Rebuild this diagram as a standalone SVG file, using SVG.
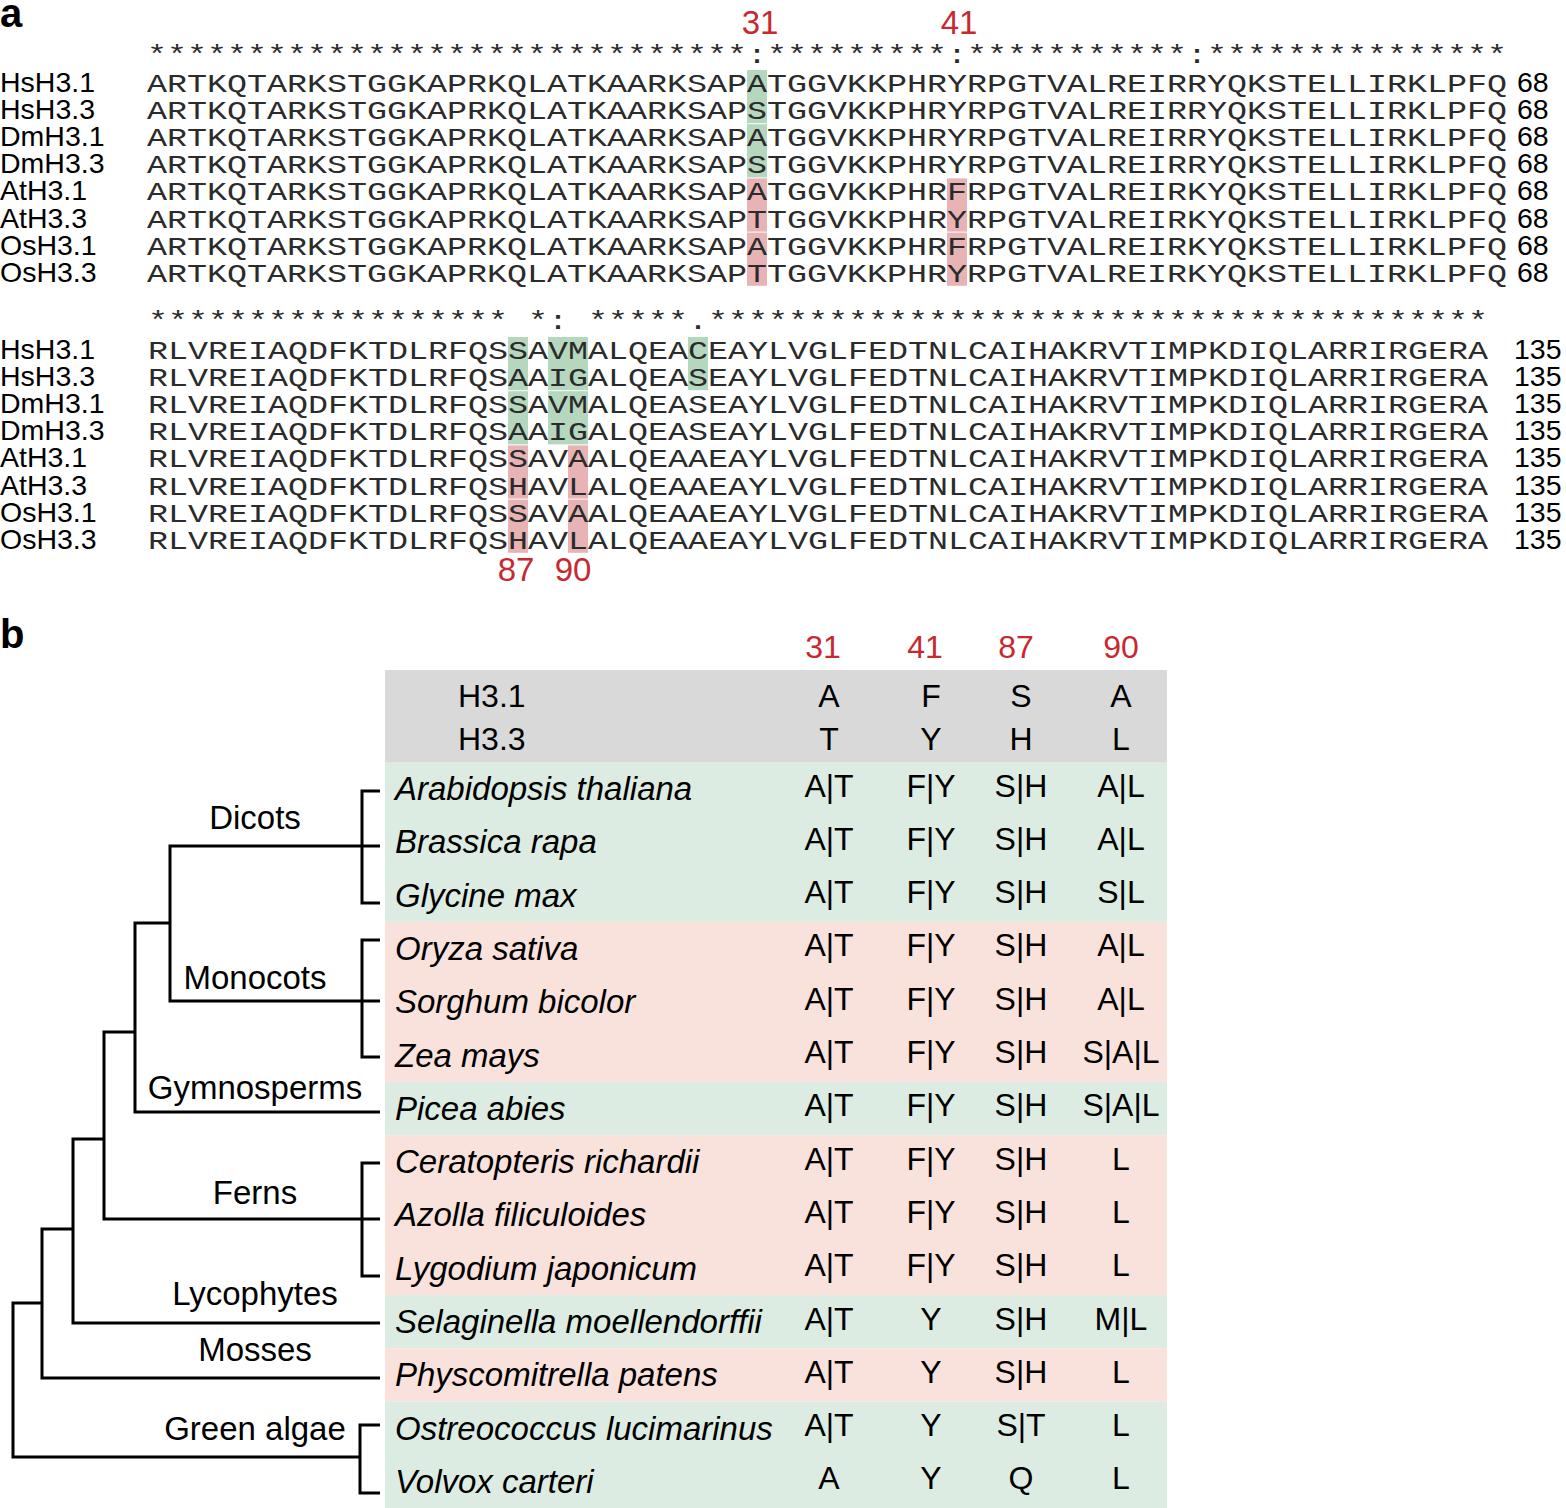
<svg xmlns="http://www.w3.org/2000/svg" width="1566" height="1508" viewBox="0 0 1566 1508">
<style>
text{font-family:"Liberation Sans",Arial,sans-serif;fill:#000}
.panel{font-size:40px;font-weight:bold}
.lab{font-size:28.5px}
.num{font-size:28.5px}
.seq{font-family:"Liberation Mono","Courier New",monospace;font-size:26px;fill:#2b2b2b}
.red{font-size:33px;fill:#c62a30;text-anchor:middle}
.redb{font-size:32px;fill:#c62a30;text-anchor:middle}
.sp{font-size:33px;font-style:italic}
.val{font-size:32px;text-anchor:middle}
.hdr{font-size:32px}
.clade{font-size:33px;text-anchor:middle}
.hg{fill:#b5d7bd}
.hp{fill:#e7b3b5}
.bg{fill:#ddece2}
.bp{fill:#f9e2db}
.tree{fill:none;stroke:#000;stroke-width:3;stroke-linejoin:miter}
</style>

<text class="panel" x="0" y="27">a</text>
<text class="panel" x="0" y="648">b</text>

<g id="highlights">
<rect class="hg" x="747" y="70" width="20" height="53.2"/>
<rect class="hg" x="747" y="124.2" width="20" height="53.2"/>
<rect class="hp" x="747" y="178.4" width="20" height="53.2"/>
<rect class="hp" x="747" y="232.6" width="20" height="53.2"/>
<rect class="hp" x="947" y="178.4" width="20" height="53.2"/>
<rect class="hp" x="947" y="232.6" width="20" height="53.2"/>
<rect class="hg" x="508" y="337" width="20" height="53.2"/>
<rect class="hg" x="508" y="391.2" width="20" height="53.2"/>
<rect class="hg" x="548" y="337" width="40" height="53.2"/>
<rect class="hg" x="548" y="391.2" width="40" height="53.2"/>
<rect class="hg" x="688" y="337" width="20" height="53.2"/>
<rect class="hp" x="508" y="445.4" width="20" height="53.2"/>
<rect class="hp" x="508" y="499.6" width="20" height="53.2"/>
<rect class="hp" x="568" y="445.4" width="20" height="53.2"/>
<rect class="hp" x="568" y="499.6" width="20" height="53.2"/>
</g>

<g id="alignment-block-1">
<text class="red" x="760" y="34">31</text>
<text class="red" x="959" y="34">41</text>
<text class="seq" x="147" y="63" textLength="1360" lengthAdjust="spacingAndGlyphs" xml:space="preserve">******************************:*********:***********:***************</text>
<text class="lab" x="0" y="92">HsH3.1</text>
<text class="lab" x="0" y="119.1">HsH3.3</text>
<text class="lab" x="0" y="146.2">DmH3.1</text>
<text class="lab" x="0" y="173.3">DmH3.3</text>
<text class="lab" x="0" y="200.4">AtH3.1</text>
<text class="lab" x="0" y="227.5">AtH3.3</text>
<text class="lab" x="0" y="254.6">OsH3.1</text>
<text class="lab" x="0" y="281.7">OsH3.3</text>
<text class="seq" x="147" y="92" textLength="1360" lengthAdjust="spacingAndGlyphs">ARTKQTARKSTGGKAPRKQLATKAARKSAPATGGVKKPHRYRPGTVALREIRRYQKSTELLIRKLPFQ</text>
<text class="seq" x="147" y="119.1" textLength="1360" lengthAdjust="spacingAndGlyphs">ARTKQTARKSTGGKAPRKQLATKAARKSAPSTGGVKKPHRYRPGTVALREIRRYQKSTELLIRKLPFQ</text>
<text class="seq" x="147" y="146.2" textLength="1360" lengthAdjust="spacingAndGlyphs">ARTKQTARKSTGGKAPRKQLATKAARKSAPATGGVKKPHRYRPGTVALREIRRYQKSTELLIRKLPFQ</text>
<text class="seq" x="147" y="173.3" textLength="1360" lengthAdjust="spacingAndGlyphs">ARTKQTARKSTGGKAPRKQLATKAARKSAPSTGGVKKPHRYRPGTVALREIRRYQKSTELLIRKLPFQ</text>
<text class="seq" x="147" y="200.4" textLength="1360" lengthAdjust="spacingAndGlyphs">ARTKQTARKSTGGKAPRKQLATKAARKSAPATGGVKKPHRFRPGTVALREIRKYQKSTELLIRKLPFQ</text>
<text class="seq" x="147" y="227.5" textLength="1360" lengthAdjust="spacingAndGlyphs">ARTKQTARKSTGGKAPRKQLATKAARKSAPTTGGVKKPHRYRPGTVALREIRKYQKSTELLIRKLPFQ</text>
<text class="seq" x="147" y="254.6" textLength="1360" lengthAdjust="spacingAndGlyphs">ARTKQTARKSTGGKAPRKQLATKAARKSAPATGGVKKPHRFRPGTVALREIRKYQKSTELLIRKLPFQ</text>
<text class="seq" x="147" y="281.7" textLength="1360" lengthAdjust="spacingAndGlyphs">ARTKQTARKSTGGKAPRKQLATKAARKSAPTTGGVKKPHRYRPGTVALREIRKYQKSTELLIRKLPFQ</text>
<text class="num" x="1517" y="92">68</text>
<text class="num" x="1517" y="119.1">68</text>
<text class="num" x="1517" y="146.2">68</text>
<text class="num" x="1517" y="173.3">68</text>
<text class="num" x="1517" y="200.4">68</text>
<text class="num" x="1517" y="227.5">68</text>
<text class="num" x="1517" y="254.6">68</text>
<text class="num" x="1517" y="281.7">68</text>
</g>

<g id="alignment-block-2">
<text class="seq" x="148" y="329" textLength="1340" lengthAdjust="spacingAndGlyphs" xml:space="preserve">****************** *: *****.***************************************</text>
<text class="lab" x="0" y="359">HsH3.1</text>
<text class="lab" x="0" y="386.1">HsH3.3</text>
<text class="lab" x="0" y="413.2">DmH3.1</text>
<text class="lab" x="0" y="440.3">DmH3.3</text>
<text class="lab" x="0" y="467.4">AtH3.1</text>
<text class="lab" x="0" y="494.5">AtH3.3</text>
<text class="lab" x="0" y="521.6">OsH3.1</text>
<text class="lab" x="0" y="548.7">OsH3.3</text>
<text class="seq" x="148" y="359" textLength="1340" lengthAdjust="spacingAndGlyphs">RLVREIAQDFKTDLRFQSSAVMALQEACEAYLVGLFEDTNLCAIHAKRVTIMPKDIQLARRIRGERA</text>
<text class="seq" x="148" y="386.1" textLength="1340" lengthAdjust="spacingAndGlyphs">RLVREIAQDFKTDLRFQSAAIGALQEASEAYLVGLFEDTNLCAIHAKRVTIMPKDIQLARRIRGERA</text>
<text class="seq" x="148" y="413.2" textLength="1340" lengthAdjust="spacingAndGlyphs">RLVREIAQDFKTDLRFQSSAVMALQEASEAYLVGLFEDTNLCAIHAKRVTIMPKDIQLARRIRGERA</text>
<text class="seq" x="148" y="440.3" textLength="1340" lengthAdjust="spacingAndGlyphs">RLVREIAQDFKTDLRFQSAAIGALQEASEAYLVGLFEDTNLCAIHAKRVTIMPKDIQLARRIRGERA</text>
<text class="seq" x="148" y="467.4" textLength="1340" lengthAdjust="spacingAndGlyphs">RLVREIAQDFKTDLRFQSSAVAALQEAAEAYLVGLFEDTNLCAIHAKRVTIMPKDIQLARRIRGERA</text>
<text class="seq" x="148" y="494.5" textLength="1340" lengthAdjust="spacingAndGlyphs">RLVREIAQDFKTDLRFQSHAVLALQEAAEAYLVGLFEDTNLCAIHAKRVTIMPKDIQLARRIRGERA</text>
<text class="seq" x="148" y="521.6" textLength="1340" lengthAdjust="spacingAndGlyphs">RLVREIAQDFKTDLRFQSSAVAALQEAAEAYLVGLFEDTNLCAIHAKRVTIMPKDIQLARRIRGERA</text>
<text class="seq" x="148" y="548.7" textLength="1340" lengthAdjust="spacingAndGlyphs">RLVREIAQDFKTDLRFQSHAVLALQEAAEAYLVGLFEDTNLCAIHAKRVTIMPKDIQLARRIRGERA</text>
<text class="num" x="1514" y="359">135</text>
<text class="num" x="1514" y="386.1">135</text>
<text class="num" x="1514" y="413.2">135</text>
<text class="num" x="1514" y="440.3">135</text>
<text class="num" x="1514" y="467.4">135</text>
<text class="num" x="1514" y="494.5">135</text>
<text class="num" x="1514" y="521.6">135</text>
<text class="num" x="1514" y="548.7">135</text>
<text class="red" x="516" y="581">87</text>
<text class="red" x="573" y="581">90</text>
</g>

<g id="table-bands">
<rect x="385" y="670" width="782" height="92" fill="#d9d9d9"/>
<rect class="bg" x="385" y="762" width="782" height="159.9"/>
<rect class="bp" x="385" y="921.9" width="782" height="159.9"/>
<rect class="bg" x="385" y="1081.8" width="782" height="53.3"/>
<rect class="bp" x="385" y="1135.1" width="782" height="159.9"/>
<rect class="bg" x="385" y="1295" width="782" height="53.3"/>
<rect class="bp" x="385" y="1348.3" width="782" height="53.3"/>
<rect class="bg" x="385" y="1401.6" width="782" height="106.4"/>
</g>

<g id="table-header">
<text class="redb" x="823" y="658">31</text>
<text class="redb" x="925" y="658">41</text>
<text class="redb" x="1016" y="658">87</text>
<text class="redb" x="1121" y="658">90</text>
<text class="hdr" x="458" y="707">H3.1</text>
<text class="hdr" x="458" y="750">H3.3</text>
<text class="val" x="829" y="707">A</text><text class="val" x="931" y="707">F</text><text class="val" x="1021" y="707">S</text><text class="val" x="1121" y="707">A</text>
<text class="val" x="829" y="750">T</text><text class="val" x="931" y="750">Y</text><text class="val" x="1021" y="750">H</text><text class="val" x="1121" y="750">L</text>
</g>

<g id="row-arabidopsis"><text class="sp" x="395" y="800">Arabidopsis thaliana</text><text class="val" x="829" y="796.5">A|T</text><text class="val" x="931" y="796.5">F|Y</text><text class="val" x="1021" y="796.5">S|H</text><text class="val" x="1121" y="796.5">A|L</text></g>
<g id="row-brassica"><text class="sp" x="395" y="853.3">Brassica rapa</text><text class="val" x="829" y="849.8">A|T</text><text class="val" x="931" y="849.8">F|Y</text><text class="val" x="1021" y="849.8">S|H</text><text class="val" x="1121" y="849.8">A|L</text></g>
<g id="row-glycine"><text class="sp" x="395" y="906.6">Glycine max</text><text class="val" x="829" y="903.1">A|T</text><text class="val" x="931" y="903.1">F|Y</text><text class="val" x="1021" y="903.1">S|H</text><text class="val" x="1121" y="903.1">S|L</text></g>
<g id="row-oryza"><text class="sp" x="395" y="959.9">Oryza sativa</text><text class="val" x="829" y="956.4">A|T</text><text class="val" x="931" y="956.4">F|Y</text><text class="val" x="1021" y="956.4">S|H</text><text class="val" x="1121" y="956.4">A|L</text></g>
<g id="row-sorghum"><text class="sp" x="395" y="1013.2">Sorghum bicolor</text><text class="val" x="829" y="1009.7">A|T</text><text class="val" x="931" y="1009.7">F|Y</text><text class="val" x="1021" y="1009.7">S|H</text><text class="val" x="1121" y="1009.7">A|L</text></g>
<g id="row-zea"><text class="sp" x="395" y="1066.5">Zea mays</text><text class="val" x="829" y="1063">A|T</text><text class="val" x="931" y="1063">F|Y</text><text class="val" x="1021" y="1063">S|H</text><text class="val" x="1121" y="1063">S|A|L</text></g>
<g id="row-picea"><text class="sp" x="395" y="1119.8">Picea abies</text><text class="val" x="829" y="1116.3">A|T</text><text class="val" x="931" y="1116.3">F|Y</text><text class="val" x="1021" y="1116.3">S|H</text><text class="val" x="1121" y="1116.3">S|A|L</text></g>
<g id="row-ceratopteris"><text class="sp" x="395" y="1173.1">Ceratopteris richardii</text><text class="val" x="829" y="1169.6">A|T</text><text class="val" x="931" y="1169.6">F|Y</text><text class="val" x="1021" y="1169.6">S|H</text><text class="val" x="1121" y="1169.6">L</text></g>
<g id="row-azolla"><text class="sp" x="395" y="1226.4">Azolla filiculoides</text><text class="val" x="829" y="1222.9">A|T</text><text class="val" x="931" y="1222.9">F|Y</text><text class="val" x="1021" y="1222.9">S|H</text><text class="val" x="1121" y="1222.9">L</text></g>
<g id="row-lygodium"><text class="sp" x="395" y="1279.7">Lygodium japonicum</text><text class="val" x="829" y="1276.2">A|T</text><text class="val" x="931" y="1276.2">F|Y</text><text class="val" x="1021" y="1276.2">S|H</text><text class="val" x="1121" y="1276.2">L</text></g>
<g id="row-selaginella"><text class="sp" x="395" y="1333">Selaginella moellendorffii</text><text class="val" x="829" y="1329.5">A|T</text><text class="val" x="931" y="1329.5">Y</text><text class="val" x="1021" y="1329.5">S|H</text><text class="val" x="1121" y="1329.5">M|L</text></g>
<g id="row-physcomitrella"><text class="sp" x="395" y="1386.3">Physcomitrella patens</text><text class="val" x="829" y="1382.8">A|T</text><text class="val" x="931" y="1382.8">Y</text><text class="val" x="1021" y="1382.8">S|H</text><text class="val" x="1121" y="1382.8">L</text></g>
<g id="row-ostreococcus"><text class="sp" x="395" y="1439.6">Ostreococcus lucimarinus</text><text class="val" x="829" y="1436.1">A|T</text><text class="val" x="931" y="1436.1">Y</text><text class="val" x="1021" y="1436.1">S|T</text><text class="val" x="1121" y="1436.1">L</text></g>
<g id="row-volvox"><text class="sp" x="395" y="1492.9">Volvox carteri</text><text class="val" x="829" y="1489.4">A</text><text class="val" x="931" y="1489.4">Y</text><text class="val" x="1021" y="1489.4">Q</text><text class="val" x="1121" y="1489.4">L</text></g>

<g id="clade-labels">
<text class="clade" x="255" y="829">Dicots</text>
<text class="clade" x="255" y="989">Monocots</text>
<text class="clade" x="255" y="1099">Gymnosperms</text>
<text class="clade" x="255" y="1204">Ferns</text>
<text class="clade" x="255" y="1305">Lycophytes</text>
<text class="clade" x="255" y="1361">Mosses</text>
<text class="clade" x="255" y="1440">Green algae</text>
</g>

<g id="connectors" class="tree">
<path d="M380,791 H362 V903 H380 M362,846 H380"/>
<path d="M380,940 H362 V1057 H380"/>
<path d="M362,846 H170 V1001 H380"/>
<path d="M170,923 H135 V1112 H380"/>
<path d="M380,1163 H362 V1276 H380"/>
<path d="M135,1032 H104 V1219 H380"/>
<path d="M104,1139 H73 V1323 H380"/>
<path d="M73,1229 H42 V1378 H380"/>
<path d="M380,1425 H360 V1493 H380"/>
<path d="M42,1303 H13 V1457 H360"/>
</g>
</svg>
